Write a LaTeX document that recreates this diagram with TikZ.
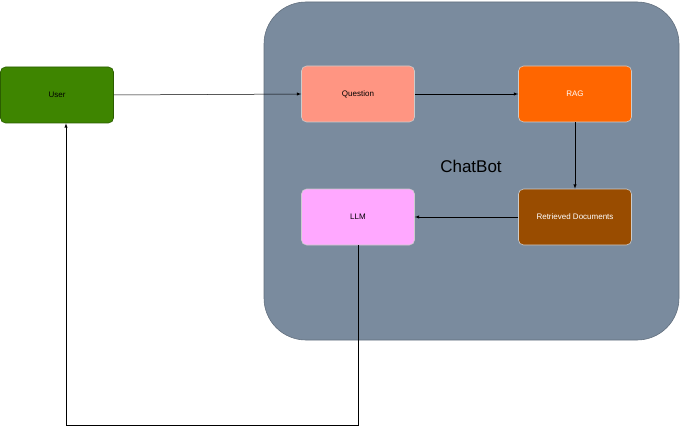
\documentclass[tikz,border=0pt]{standalone}
\usepackage{fontspec}
\setmainfont{Liberation Sans}
\usepackage{tikz}
\usetikzlibrary{positioning}
\definecolor{botgrey}{HTML}{7A8B9E}
\definecolor{usergreen}{HTML}{3E8500}
\definecolor{qsalmon}{HTML}{FF9582}
\definecolor{ragorange}{HTML}{FF6600}
\definecolor{docbrown}{HTML}{994C00}
\definecolor{llmpink}{HTML}{FFA8FF}

\begin{document}
\begin{tikzpicture}[x=1pt, y=-1pt, line width=0.6pt,
  box/.style={draw=white!80!black, rounded corners=5pt, minimum width=113pt, minimum height=56pt, font=\fontsize{8}{10}\selectfont, inner sep=1pt},
  link/.style={-latex, line width=0.5pt}]

\useasboundingbox (0, 0) rectangle (680, 433);

% draw container
\filldraw[draw=botgrey!80!black, fill=botgrey, rounded corners=42pt] (264, 2) rectangle (679, 340);
\node[font=\fontsize{17}{20}\selectfont] (label) at (471, 166) {ChatBot};

% draw boxes
\node[box, fill=usergreen, draw=usergreen!70!black] (user) at (57, 95) {User};
\node[box, fill=qsalmon] (question) at (358, 94) {Question};
\node[box, fill=ragorange, text=white] (rag) at (575, 94) {RAG};
\node[box, fill=docbrown, text=white] (docs) at (575, 217) {Retrieved Documents};
\node[box, fill=llmpink] (llm) at (358, 217) {LLM};

% draw arrows
\draw[link] (user.east) -- (question.west);
\draw[link] (question) -- (rag);
\draw[link] (rag) -- (docs);
\draw[link] (docs) -- (llm);
\coordinate (turn1) at (358, 425);
\coordinate (turn2) at (66, 425);
\draw[link] (llm.south) -- (turn1) -- (turn2) -- (user.south -| turn2);

\end{tikzpicture}
\end{document}
